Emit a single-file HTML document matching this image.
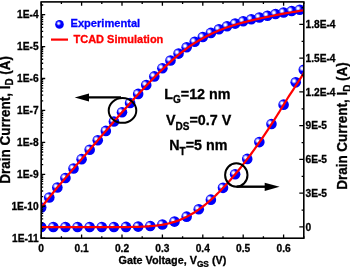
<!DOCTYPE html>
<html><head><meta charset="utf-8"><style>
html,body{margin:0;padding:0;background:#fff;}
svg{display:block;}
text{font-family:"Liberation Sans", Arial, sans-serif;font-weight:bold;stroke:#000;stroke-width:0.3px;}
</style></head><body>
<svg width="350" height="267" viewBox="0 0 350 267">
<defs>
<radialGradient id="g" cx="0.34" cy="0.37" r="0.62" fx="0.34" fy="0.37">
<stop offset="0" stop-color="#fff"/><stop offset="0.12" stop-color="#fff"/><stop offset="0.3" stop-color="#8080ff"/><stop offset="0.46" stop-color="#0000ff"/><stop offset="1" stop-color="#0000f8"/>
</radialGradient>
<clipPath id="c"><rect x="41.2" y="1.9" width="262.6" height="236.29999999999998"/></clipPath>
</defs>
<rect width="350" height="267" fill="#fff"/>

<g clip-path="url(#c)">
<circle cx="41.20" cy="207.45" r="5.3" fill="url(#g)"/>
<circle cx="49.28" cy="197.45" r="5.3" fill="url(#g)"/>
<circle cx="57.36" cy="187.45" r="5.3" fill="url(#g)"/>
<circle cx="65.44" cy="178.01" r="5.3" fill="url(#g)"/>
<circle cx="73.52" cy="168.56" r="5.3" fill="url(#g)"/>
<circle cx="81.60" cy="159.13" r="5.3" fill="url(#g)"/>
<circle cx="89.68" cy="149.70" r="5.3" fill="url(#g)"/>
<circle cx="97.76" cy="140.28" r="5.3" fill="url(#g)"/>
<circle cx="105.84" cy="130.88" r="5.3" fill="url(#g)"/>
<circle cx="113.92" cy="121.52" r="5.3" fill="url(#g)"/>
<circle cx="122.00" cy="112.21" r="5.3" fill="url(#g)"/>
<circle cx="130.08" cy="102.99" r="5.3" fill="url(#g)"/>
<circle cx="138.16" cy="93.90" r="5.3" fill="url(#g)"/>
<circle cx="146.24" cy="85.00" r="5.3" fill="url(#g)"/>
<circle cx="154.32" cy="76.40" r="5.3" fill="url(#g)"/>
<circle cx="162.40" cy="68.21" r="5.3" fill="url(#g)"/>
<circle cx="170.48" cy="60.56" r="5.3" fill="url(#g)"/>
<circle cx="178.56" cy="53.58" r="5.3" fill="url(#g)"/>
<circle cx="186.64" cy="47.32" r="5.3" fill="url(#g)"/>
<circle cx="194.72" cy="41.82" r="5.3" fill="url(#g)"/>
<circle cx="202.80" cy="37.03" r="5.3" fill="url(#g)"/>
<circle cx="210.88" cy="32.89" r="5.3" fill="url(#g)"/>
<circle cx="218.96" cy="29.28" r="5.3" fill="url(#g)"/>
<circle cx="227.04" cy="26.22" r="5.3" fill="url(#g)"/>
<circle cx="235.12" cy="23.61" r="5.3" fill="url(#g)"/>
<circle cx="243.20" cy="21.31" r="5.3" fill="url(#g)"/>
<circle cx="251.28" cy="19.26" r="5.3" fill="url(#g)"/>
<circle cx="259.36" cy="17.43" r="5.3" fill="url(#g)"/>
<circle cx="267.44" cy="15.69" r="5.3" fill="url(#g)"/>
<circle cx="275.52" cy="14.03" r="5.3" fill="url(#g)"/>
<circle cx="283.60" cy="12.49" r="5.3" fill="url(#g)"/>
<circle cx="291.68" cy="11.06" r="5.3" fill="url(#g)"/>
<circle cx="299.76" cy="9.73" r="5.3" fill="url(#g)"/>
<circle cx="41.20" cy="227.02" r="5.3" fill="url(#g)"/>
<circle cx="53.32" cy="227.02" r="5.3" fill="url(#g)"/>
<circle cx="65.44" cy="227.02" r="5.3" fill="url(#g)"/>
<circle cx="77.56" cy="227.02" r="5.3" fill="url(#g)"/>
<circle cx="89.68" cy="227.02" r="5.3" fill="url(#g)"/>
<circle cx="101.80" cy="227.01" r="5.3" fill="url(#g)"/>
<circle cx="113.92" cy="226.97" r="5.3" fill="url(#g)"/>
<circle cx="126.04" cy="226.88" r="5.3" fill="url(#g)"/>
<circle cx="138.16" cy="226.62" r="5.3" fill="url(#g)"/>
<circle cx="150.28" cy="225.98" r="5.3" fill="url(#g)"/>
<circle cx="162.40" cy="224.52" r="5.3" fill="url(#g)"/>
<circle cx="174.52" cy="221.61" r="5.3" fill="url(#g)"/>
<circle cx="186.64" cy="216.65" r="5.3" fill="url(#g)"/>
<circle cx="198.76" cy="209.31" r="5.3" fill="url(#g)"/>
<circle cx="210.88" cy="199.64" r="5.3" fill="url(#g)"/>
<circle cx="223.00" cy="187.84" r="5.3" fill="url(#g)"/>
<circle cx="235.12" cy="174.18" r="5.3" fill="url(#g)"/>
<circle cx="247.24" cy="158.88" r="5.3" fill="url(#g)"/>
<circle cx="259.36" cy="142.11" r="5.3" fill="url(#g)"/>
<circle cx="271.48" cy="124.00" r="5.3" fill="url(#g)"/>
<circle cx="283.60" cy="104.65" r="5.3" fill="url(#g)"/>
<circle cx="295.72" cy="82.33" r="5.3" fill="url(#g)"/>
<circle cx="303.80" cy="69.83" r="5.3" fill="url(#g)"/>
<polyline points="41.20,207.45 42.54,205.79 43.88,204.13 45.22,202.48 46.56,200.82 47.90,199.16 49.24,197.50 50.58,195.84 51.92,194.19 53.26,192.53 54.60,190.87 55.94,189.21 57.28,187.55 58.62,185.98 59.96,184.42 61.30,182.85 62.64,181.28 63.98,179.72 65.32,178.15 66.66,176.58 68.00,175.02 69.34,173.45 70.68,171.89 72.02,170.32 73.36,168.75 74.70,167.19 76.04,165.62 77.38,164.06 78.72,162.49 80.06,160.93 81.40,159.36 82.74,157.80 84.08,156.23 85.42,154.67 86.76,153.11 88.10,151.54 89.44,149.98 90.78,148.42 92.12,146.86 93.46,145.29 94.80,143.73 96.14,142.17 97.48,140.61 98.82,139.05 100.16,137.49 101.50,135.93 102.84,134.37 104.18,132.82 105.52,131.26 106.86,129.70 108.19,128.15 109.53,126.60 110.87,125.04 112.21,123.49 113.55,121.94 114.89,120.39 116.23,118.85 117.57,117.30 118.91,115.76 120.25,114.22 121.59,112.68 122.93,111.17 124.27,109.67 125.61,108.18 126.95,106.69 128.29,105.21 129.63,103.72 130.97,102.24 132.31,100.77 133.65,99.29 134.99,97.83 136.33,96.36 137.67,94.90 139.01,93.45 140.35,92.00 141.69,90.56 143.03,89.13 144.37,87.70 145.71,86.28 147.05,84.87 148.39,83.46 149.73,82.07 151.07,80.68 152.41,79.30 153.75,77.94 155.09,76.58 156.43,75.24 157.77,73.91 159.11,72.59 160.45,71.29 161.79,69.99 163.13,68.70 164.47,67.40 165.81,66.11 167.15,64.84 168.49,63.59 169.83,62.36 171.17,61.14 172.51,59.94 173.85,58.76 175.19,57.60 176.53,56.46 177.87,55.34 179.21,54.24 180.55,53.17 181.89,52.11 183.23,51.07 184.57,50.05 185.91,49.06 187.25,48.08 188.59,47.13 189.93,46.19 191.27,45.28 192.61,44.39 193.95,43.51 195.29,42.66 196.63,41.83 197.97,41.01 199.31,40.22 200.65,39.44 201.99,38.68 203.33,37.94 204.67,37.22 206.01,36.52 207.35,35.83 208.69,35.15 210.03,34.50 211.37,33.85 212.71,33.23 214.05,32.61 215.39,32.01 216.73,31.43 218.07,30.86 219.41,30.30 220.75,29.75 222.09,29.22 223.43,28.70 224.77,28.22 226.11,27.74 227.45,27.28 228.79,26.82 230.13,26.38 231.47,25.95 232.81,25.52 234.15,25.10 235.49,24.70 236.83,24.30 238.17,23.91 239.51,23.52 240.85,23.15 242.18,22.78 243.52,22.42 244.86,22.07 246.20,21.72 247.54,21.38 248.88,21.04 250.22,20.71 251.56,20.39 252.90,20.08 254.24,19.77 255.58,19.46 256.92,19.16 258.26,18.86 259.60,18.57 260.94,18.29 262.28,18.01 263.62,17.73 264.96,17.43 266.30,17.14 267.64,16.85 268.98,16.56 270.32,16.28 271.66,16.00 273.00,15.73 274.34,15.46 275.68,15.19 277.02,14.93 278.36,14.67 279.70,14.42 281.04,14.16 282.38,13.91 283.72,13.67 285.06,13.42 286.40,13.18 287.74,12.94 289.08,12.71 290.42,12.48 291.76,12.25 293.10,12.02 294.44,11.80 295.78,11.58 297.12,11.36 298.46,11.14 299.80,10.92 301.14,10.71 302.48,10.50 303.82,10.29 305.16,10.09 306.50,9.89 307.84,9.68" fill="none" stroke="#f00" stroke-width="2.2"/>
<polyline points="41.20,227.22 42.54,227.22 43.88,227.22 45.22,227.22 46.56,227.22 47.90,227.22 49.24,227.22 50.58,227.22 51.92,227.22 53.26,227.22 54.60,227.22 55.94,227.22 57.28,227.22 58.62,227.22 59.96,227.22 61.30,227.22 62.64,227.22 63.98,227.22 65.32,227.22 66.66,227.22 68.00,227.22 69.34,227.22 70.68,227.22 72.02,227.22 73.36,227.22 74.70,227.22 76.04,227.22 77.38,227.22 78.72,227.22 80.06,227.22 81.40,227.22 82.74,227.22 84.08,227.22 85.42,227.22 86.76,227.22 88.10,227.22 89.44,227.22 90.78,227.22 92.12,227.22 93.46,227.21 94.80,227.21 96.14,227.21 97.48,227.21 98.82,227.21 100.16,227.21 101.50,227.21 102.84,227.20 104.18,227.20 105.52,227.20 106.86,227.20 108.19,227.19 109.53,227.19 110.87,227.18 112.21,227.18 113.55,227.17 114.89,227.17 116.23,227.16 117.57,227.15 118.91,227.14 120.25,227.13 121.59,227.12 122.93,227.11 124.27,227.10 125.61,227.08 126.95,227.06 128.29,227.05 129.63,227.02 130.97,227.00 132.31,226.97 133.65,226.95 134.99,226.91 136.33,226.88 137.67,226.84 139.01,226.79 140.35,226.74 141.69,226.69 143.03,226.63 144.37,226.56 145.71,226.49 147.05,226.41 148.39,226.32 149.73,226.22 151.07,226.12 152.41,226.00 153.75,225.87 155.09,225.73 156.43,225.58 157.77,225.41 159.11,225.23 160.45,225.03 161.79,224.82 163.13,224.59 164.47,224.34 165.81,224.07 167.15,223.79 168.49,223.48 169.83,223.15 171.17,222.80 172.51,222.42 173.85,222.02 175.19,221.59 176.53,221.14 177.87,220.66 179.21,220.16 180.55,219.62 181.89,219.06 183.23,218.48 184.57,217.86 185.91,217.21 187.25,216.53 188.59,215.83 189.93,215.09 191.27,214.33 192.61,213.54 193.95,212.71 195.29,211.86 196.63,210.98 197.97,210.06 199.31,209.12 200.65,208.15 201.99,207.16 203.33,206.13 204.67,205.08 206.01,204.00 207.35,202.89 208.69,201.75 210.03,200.59 211.37,199.40 212.71,198.19 214.05,196.95 215.39,195.68 216.73,194.39 218.07,193.08 219.41,191.74 220.75,190.38 222.09,188.99 223.43,187.59 224.77,186.16 226.11,184.70 227.45,183.23 228.79,181.73 230.13,180.22 231.47,178.68 232.81,177.12 234.15,175.54 235.49,173.94 236.83,172.32 238.17,170.68 239.51,169.02 240.85,167.34 242.18,165.65 243.52,163.93 244.86,162.20 246.20,160.44 247.54,158.67 248.88,156.89 250.22,155.08 251.56,153.26 252.90,151.42 254.24,149.56 255.58,147.68 256.92,145.79 258.26,143.88 259.60,141.96 260.94,140.02 262.28,138.06 263.62,136.09 264.96,134.10 266.30,132.10 267.64,130.07 268.98,128.04 270.32,125.99 271.66,123.92 273.00,121.84 274.34,119.74 275.68,117.63 277.02,115.50 278.36,113.36 279.70,111.21 281.04,109.04 282.38,106.85 283.72,104.65 285.06,102.44 286.40,100.21 287.74,97.97 289.08,95.84 290.42,93.83 291.76,91.81 293.10,89.78 294.44,87.74 295.78,85.68 297.12,83.60 298.46,81.52 299.80,79.42 301.14,77.30 302.48,75.18 303.82,72.79 305.16,70.37 306.50,67.94 307.84,65.50" fill="none" stroke="#f00" stroke-width="2.2"/>
</g>
<rect x="41.2" y="1.9" width="262.60" height="236.30" fill="none" stroke="#000" stroke-width="1.6"/>
<path d="M41.20,238.2v-3.8M41.20,1.9v3.8M61.40,238.2v-2.0M61.40,1.9v2.0M81.60,238.2v-3.8M81.60,1.9v3.8M101.80,238.2v-2.0M101.80,1.9v2.0M122.00,238.2v-3.8M122.00,1.9v3.8M142.20,238.2v-2.0M142.20,1.9v2.0M162.40,238.2v-3.8M162.40,1.9v3.8M182.60,238.2v-2.0M182.60,1.9v2.0M202.80,238.2v-3.8M202.80,1.9v3.8M223.00,238.2v-2.0M223.00,1.9v2.0M243.20,238.2v-3.8M243.20,1.9v3.8M263.40,238.2v-2.0M263.40,1.9v2.0M283.60,238.2v-3.8M283.60,1.9v3.8M303.80,238.2v-2.0M303.80,1.9v2.0M41.2,238.20h4M41.2,228.58h2M41.2,222.96h2M41.2,218.97h2M41.2,215.87h2M41.2,213.34h2M41.2,211.21h2M41.2,209.35h2M41.2,207.72h2M41.2,206.26h4M41.2,196.64h2M41.2,191.02h2M41.2,187.03h2M41.2,183.93h2M41.2,181.40h2M41.2,179.27h2M41.2,177.41h2M41.2,175.78h2M41.2,174.32h4M41.2,164.70h2M41.2,159.08h2M41.2,155.09h2M41.2,151.99h2M41.2,149.46h2M41.2,147.32h2M41.2,145.47h2M41.2,143.84h2M41.2,142.38h4M41.2,132.76h2M41.2,127.14h2M41.2,123.15h2M41.2,120.05h2M41.2,117.52h2M41.2,115.38h2M41.2,113.53h2M41.2,111.90h2M41.2,110.43h4M41.2,100.82h2M41.2,95.19h2M41.2,91.20h2M41.2,88.11h2M41.2,85.58h2M41.2,83.44h2M41.2,81.59h2M41.2,79.95h2M41.2,78.49h4M41.2,68.88h2M41.2,63.25h2M41.2,59.26h2M41.2,56.17h2M41.2,53.64h2M41.2,51.50h2M41.2,49.65h2M41.2,48.01h2M41.2,46.55h4M41.2,36.94h2M41.2,31.31h2M41.2,27.32h2M41.2,24.23h2M41.2,21.70h2M41.2,19.56h2M41.2,17.71h2M41.2,16.07h2M41.2,14.61h4M41.2,5.00h2M303.80,226.95h-4.5M303.80,210.07h-2.2M303.80,193.19h-4.5M303.80,176.31h-2.2M303.80,159.43h-4.5M303.80,142.55h-2.2M303.80,125.68h-4.5M303.80,108.80h-2.2M303.80,91.92h-4.5M303.80,75.04h-2.2M303.80,58.16h-4.5M303.80,41.28h-2.2M303.80,24.40h-4.5M303.80,7.53h-2.2" stroke="#000" stroke-width="1.3" fill="none"/>
<text x="38.6" y="241.80" font-size="10.2" text-anchor="end">1E-11</text>
<text x="38.6" y="209.86" font-size="10.2" text-anchor="end">1E-10</text>
<text x="38.6" y="177.92" font-size="10.2" text-anchor="end">1E-9</text>
<text x="38.6" y="145.98" font-size="10.2" text-anchor="end">1E-8</text>
<text x="38.6" y="114.03" font-size="10.2" text-anchor="end">1E-7</text>
<text x="38.6" y="82.09" font-size="10.2" text-anchor="end">1E-6</text>
<text x="38.6" y="50.15" font-size="10.2" text-anchor="end">1E-5</text>
<text x="38.6" y="18.21" font-size="10.2" text-anchor="end">1E-4</text>
<text x="41.20" y="251.8" font-size="10.2" text-anchor="middle">0</text>
<text x="81.60" y="251.8" font-size="10.2" text-anchor="middle">0.1</text>
<text x="122.00" y="251.8" font-size="10.2" text-anchor="middle">0.2</text>
<text x="162.40" y="251.8" font-size="10.2" text-anchor="middle">0.3</text>
<text x="202.80" y="251.8" font-size="10.2" text-anchor="middle">0.4</text>
<text x="243.20" y="251.8" font-size="10.2" text-anchor="middle">0.5</text>
<text x="283.60" y="251.8" font-size="10.2" text-anchor="middle">0.6</text>
<text x="305.5" y="230.55" font-size="10.2">0</text>
<text x="305.5" y="196.79" font-size="10.2">3E-5</text>
<text x="305.5" y="163.03" font-size="10.2">6E-5</text>
<text x="305.5" y="129.28" font-size="10.2">9E-5</text>
<text x="305.5" y="95.52" font-size="10.2">1.2E-4</text>
<text x="305.5" y="61.76" font-size="10.2">1.5E-4</text>
<text x="305.5" y="28.00" font-size="10.2">1.8E-4</text>
<text x="172.4" y="263.7" font-size="10.8" text-anchor="middle">Gate Voltage, V<tspan font-size="8.3" dy="3.1">GS</tspan><tspan dy="-3.1"> (V)</tspan></text>
<text transform="translate(9.9,119.8) rotate(-90) scale(1,1.05)" font-size="13.5" text-anchor="middle">Drain Current, I<tspan font-size="9.8" dy="3.4">D</tspan><tspan dy="-3.4"> (A)</tspan></text>
<text transform="translate(347.3,126) rotate(-90) scale(1,1.05)" font-size="13.5" text-anchor="middle">Drain Current, I<tspan font-size="9.8" dy="3.4">D</tspan><tspan dy="-3.4"> (A)</tspan></text>
<defs><radialGradient id="g2" cx="0.4" cy="0.38" r="0.6" fx="0.4" fy="0.38"><stop offset="0" stop-color="#fff"/><stop offset="0.1" stop-color="#fff"/><stop offset="0.3" stop-color="#7070ff"/><stop offset="0.48" stop-color="#0000ff"/><stop offset="1" stop-color="#0000f8"/></radialGradient></defs>
<circle cx="59.5" cy="24.4" r="4.3" fill="url(#g2)"/>
<text x="70.5" y="27.2" font-size="11.1" fill="#0000ff" style="stroke:#0000ff">Experimental</text>
<path d="M51,39.6H68" stroke="#f00" stroke-width="2.2"/>
<text x="73.5" y="42.6" font-size="11" fill="#f00" style="stroke:#f00">TCAD Simulation</text>
<text x="164.3" y="98.7" font-size="14.3">L<tspan font-size="10" dy="4.2">G</tspan><tspan dy="-4.2">=12 nm</tspan></text>
<text x="166" y="124.8" font-size="14.3">V<tspan font-size="10" dy="5">DS</tspan><tspan dy="-5">=0.7 V</tspan></text>
<text x="169.2" y="149.5" font-size="14.3">N<tspan font-size="10" dy="5">T</tspan><tspan dy="-5">=5 nm</tspan></text>
<ellipse cx="122.5" cy="110.4" rx="13.8" ry="12.4" fill="none" stroke="#000" stroke-width="2"/>
<ellipse cx="236.3" cy="175" rx="11.2" ry="11.7" fill="none" stroke="#000" stroke-width="2"/>
<path d="M121,97.4H87" stroke="#000" stroke-width="2.4"/>
<path d="M74.7,97.4L89,93.5L89,101.6Z" fill="#000"/>
<path d="M236.5,186.7H266" stroke="#000" stroke-width="2.4"/>
<path d="M279.6,186.8L264.7,182.7L264.7,190.9Z" fill="#000"/>
</svg></body></html>
